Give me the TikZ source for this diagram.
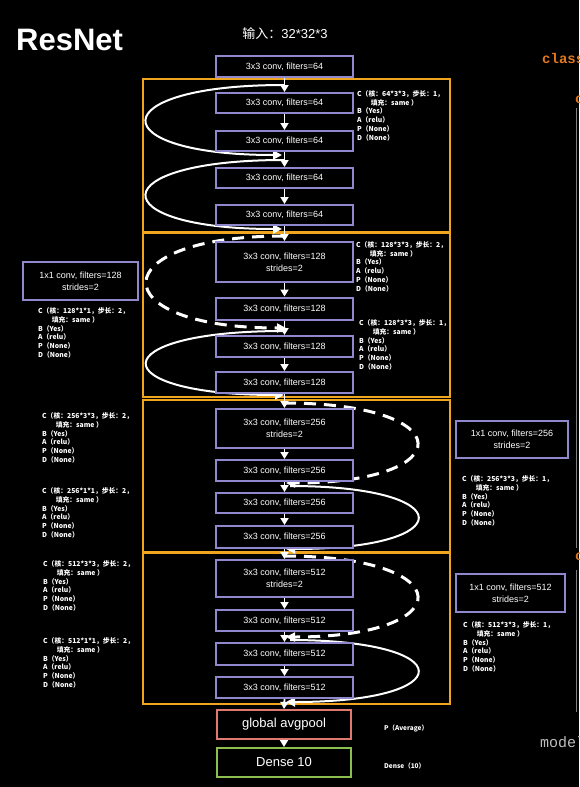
\documentclass[tikz,border=0pt]{standalone}
\usepackage{fontspec}
\setmainfont{Liberation Sans}
\newfontfamily\cjk{Noto Sans CJK SC}
\newfontfamily\monof{Liberation Mono}
\usetikzlibrary{arrows.meta}
\definecolor{lav}{RGB}{144,136,204}
\definecolor{org}{RGB}{240,165,30}
\definecolor{pinkb}{RGB}{224,122,112}
\definecolor{grn}{RGB}{140,190,80}
\definecolor{codeorg}{RGB}{225,120,30}
\definecolor{codegray}{RGB}{190,190,190}
\begin{document}
\begin{tikzpicture}[x=1pt,y=-1pt,
  conv/.style={draw=lav, line width=2pt, fill=black, text=white,
    font=\fontsize{9}{12}\selectfont, minimum width=137pt, minimum height=20pt,
    inner sep=0pt, align=center},
  side/.style={conv, minimum width=112pt, minimum height=37pt},
  blk/.style={draw=org, line width=2.6pt, inner sep=0pt},
  ann/.style={font=\cjk\bfseries\fontsize{6.8}{8.7}\selectfont, text=white, anchor=north west,
    align=left, inner sep=0pt},
  flow/.style={draw=white, line width=1.8pt, -{Triangle[length=7pt,width=8pt]}},
  loopline/.style={draw=white, line width=2pt, -{Triangle[length=9pt,width=9pt]}},
  dashloop/.style={draw=white, line width=3pt, dash pattern=on 12pt off 8pt,
    -{Triangle[length=9pt,width=9pt]}}]
\useasboundingbox (0,0) rectangle (579,787);
\fill[black] (0,0) rectangle (579,787);

% title
\node[anchor=west, text=white, font=\bfseries\fontsize{31}{31}\selectfont, inner sep=0pt] (title) at (16,40) {ResNet};
\node[text=white, font=\fontsize{13}{13}\selectfont, inner sep=0pt] (input) at (285,34) {{\cjk 输入：}32*32*3};

% right-edge code fragments
\begin{scope}
\clip (0,0) rectangle (579,787);
\node[anchor=west, text=codeorg, font=\monof\bfseries\fontsize{14}{14}\selectfont, inner sep=0pt] (cls) at (542,58) {class};
\node[anchor=west, text=codeorg, font=\monof\bfseries\fontsize{14}{14}\selectfont, inner sep=0pt] (c1) at (575,100) {c};
\node[anchor=west, text=codeorg, font=\monof\bfseries\fontsize{14}{14}\selectfont, inner sep=0pt] (c2) at (575,557) {c};
\coordinate (v1a) at (576,108); \coordinate (v1b) at (576,548);
\coordinate (v2a) at (576,570); \coordinate (v2b) at (576,712);
\draw[gray, line width=0.8pt] (v1a) -- (v1b);
\draw[gray, line width=0.8pt] (v2a) -- (v2b);
\node[anchor=west, text=codegray, font=\monof\fontsize{15}{15}\selectfont, inner sep=0pt] (mdl) at (540,742) {model};
\end{scope}

% orange blocks
\node[blk, minimum width=307pt, minimum height=153pt] (B1) at (296.5,155.5) {};
\node[blk, minimum width=307pt, minimum height=164pt] (B2) at (296.5,315) {};
\node[blk, minimum width=307pt, minimum height=152pt] (B3) at (296.5,476) {};
\node[blk, minimum width=307pt, minimum height=151pt] (B4) at (296.5,628.5) {};

% skip-connection endpoints
\coordinate (s1) at (284,85);   \coordinate (e1) at (282,155);
\coordinate (s2) at (284,160);  \coordinate (e2) at (282,229);
\coordinate (s3) at (284,236);  \coordinate (e3) at (286,328);
\coordinate (s4) at (284,331);  \coordinate (e4) at (284,395);
\coordinate (s5) at (284,403);  \coordinate (e5) at (286,483);
\coordinate (s6) at (290,486);  \coordinate (e6) at (286,549);
\coordinate (s7) at (284,556);  \coordinate (e7) at (286,637);
\coordinate (s8) at (290,640);  \coordinate (e8) at (286,702);

\draw[loopline] (s1) .. controls (101,85) and (101,155) .. (e1);
\draw[loopline] (s2) .. controls (101,160) and (101,229) .. (e2);
\draw[dashloop] (s3) .. controls (101,236) and (101,328) .. (e3);
\draw[loopline] (s4) .. controls (101,331) and (101,395) .. (e4);
\draw[dashloop] (s5) .. controls (461,403) and (461,483) .. (e5);
\draw[loopline] (s6) .. controls (461,486) and (461,549) .. (e6);
\draw[dashloop] (s7) .. controls (461,556) and (461,637) .. (e7);
\draw[loopline] (s8) .. controls (461,640) and (461,702) .. (e8);

% main column
\node[conv, minimum height=21pt] (t0) at (284.5,66.5) {3x3 conv, filters=64};
\node[conv] (b11) at (284.5,103) {3x3 conv, filters=64};
\node[conv] (b12) at (284.5,141) {3x3 conv, filters=64};
\node[conv] (b13) at (284.5,178) {3x3 conv, filters=64};
\node[conv] (b14) at (284.5,215) {3x3 conv, filters=64};

\node[conv, minimum height=40pt] (b21) at (284.5,262) {3x3 conv, filters=128\\strides=2};
\node[conv, minimum height=22pt] (b22) at (284.5,308.5) {3x3 conv, filters=128};
\node[conv, minimum height=21pt] (b23) at (284.5,346.5) {3x3 conv, filters=128};
\node[conv, minimum height=21pt] (b24) at (284.5,382.5) {3x3 conv, filters=128};

\node[conv, minimum height=39pt] (b31) at (284.5,428.5) {3x3 conv, filters=256\\strides=2};
\node[conv, minimum height=21pt] (b32) at (284.5,470.5) {3x3 conv, filters=256};
\node[conv, minimum height=20pt] (b33) at (284.5,503) {3x3 conv, filters=256};
\node[conv, minimum height=22pt] (b34) at (284.5,537) {3x3 conv, filters=256};

\node[conv, minimum height=37pt] (b41) at (284.5,578.5) {3x3 conv, filters=512\\strides=2};
\node[conv, minimum height=21pt] (b42) at (284.5,620.5) {3x3 conv, filters=512};
\node[conv, minimum height=22pt] (b43) at (284.5,654) {3x3 conv, filters=512};
\node[conv, minimum height=21pt] (b44) at (284.5,687.5) {3x3 conv, filters=512};

\node[conv, draw=pinkb, minimum width=134pt, minimum height=29pt, font=\fontsize{13}{13}\selectfont] (pool) at (284,724.5) {global avgpool};
\node[conv, draw=grn, minimum width=134pt, minimum height=29pt, font=\fontsize{13}{13}\selectfont] (dense) at (284,762.5) {Dense 10};

% side 1x1 conv boxes
\node[side, minimum width=115pt, minimum height=38pt] (sc2) at (80.5,281) {1x1 conv, filters=128\\strides=2};
\node[side] (sc3) at (512,439) {1x1 conv, filters=256\\strides=2};
\node[side, minimum width=109pt, minimum height=38pt] (sc4) at (510.5,593) {1x1 conv, filters=512\\strides=2};

% flow arrows
\foreach \a/\b in {t0/b11,b11/b12,b12/b13,b13/b14,b14/b21,b21/b22,b22/b23,b23/b24,b24/b31,b31/b32,b32/b33,b33/b34,b34/b41,b41/b42,b42/b43,b43/b44,b44/pool,pool/dense}
  \draw[flow] (\a.south) -- (\b.north);

% annotations
\node[ann] (a1) at (357,90.5) {C（核：64*3*3，步长：1，\\\hspace{2em}填充：same ）\\B（Yes）\\A（relu）\\P（None）\\D（None）};
\node[ann] (a2) at (38,307.5) {C（核：128*1*1，步长：2，\\\hspace{2em}填充：same ）\\B（Yes）\\A（relu）\\P（None）\\D（None）};
\node[ann] (a3) at (356,241.5) {C（核：128*3*3，步长：2，\\\hspace{2em}填充：same ）\\B（Yes）\\A（relu）\\P（None）\\D（None）};
\node[ann] (a4) at (359,319.5) {C（核：128*3*3，步长：1，\\\hspace{2em}填充：same ）\\B（Yes）\\A（relu）\\P（None）\\D（None）};
\node[ann] (a5) at (42,412.5) {C（核：256*3*3，步长：2，\\\hspace{2em}填充：same ）\\B（Yes）\\A（relu）\\P（None）\\D（None）};
\node[ann] (a6) at (42,487.5) {C（核：256*1*1，步长：2，\\\hspace{2em}填充：same ）\\B（Yes）\\A（relu）\\P（None）\\D（None）};
\node[ann] (a7) at (462,475.5) {C（核：256*3*3，步长：1，\\\hspace{2em}填充：same ）\\B（Yes）\\A（relu）\\P（None）\\D（None）};
\node[ann] (a8) at (43,560.5) {C（核：512*3*3，步长：2，\\\hspace{2em}填充：same ）\\B（Yes）\\A（relu）\\P（None）\\D（None）};
\node[ann] (a9) at (43,637.5) {C（核：512*1*1，步长：2，\\\hspace{2em}填充：same ）\\B（Yes）\\A（relu）\\P（None）\\D（None）};
\node[ann] (a10) at (463,621.5) {C（核：512*3*3，步长：1，\\\hspace{2em}填充：same ）\\B（Yes）\\A（relu）\\P（None）\\D（None）};
\node[ann, anchor=west, font=\cjk\bfseries\fontsize{6.5}{7}\selectfont] (ap) at (384,728) {P（Average）};
\node[ann, anchor=west, font=\cjk\bfseries\fontsize{6.5}{7}\selectfont] (ad) at (384,766) {Dense（10）};
\end{tikzpicture}
\end{document}
